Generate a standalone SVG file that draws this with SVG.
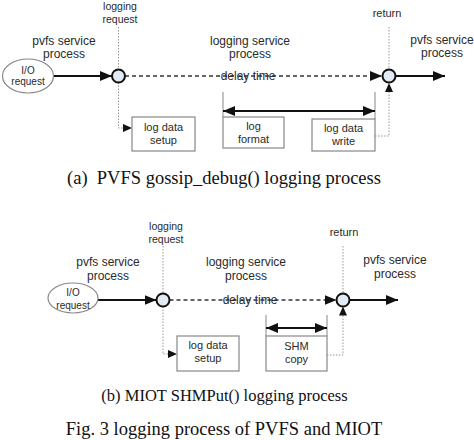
<svg xmlns="http://www.w3.org/2000/svg" width="474" height="440" viewBox="0 0 474 440">
<defs>
<style>
.t{font-family:"Liberation Sans",Arial,sans-serif;fill:#2a2a2a;text-anchor:middle}
.cap{font-family:"Liberation Serif","Times New Roman",serif;fill:#111;text-anchor:middle}
.box{fill:#fff;stroke:#888;stroke-width:1.2}
.ell{fill:#fff;stroke:#888;stroke-width:1.2}
.node{fill:#e2eaf6;stroke:#111;stroke-width:2}
.thick{stroke:#111;stroke-width:2;fill:none}
.dash{stroke:#333;stroke-width:1.3;stroke-dasharray:4 3;fill:none}
.dot{stroke:#999;stroke-width:1;stroke-dasharray:1.5 1.5;fill:none}
.brk{stroke:#888;stroke-width:1;fill:none}
.dbl{stroke:#111;stroke-width:1.8;fill:none}
</style>
<marker id="ah" markerUnits="userSpaceOnUse" markerWidth="12" markerHeight="10" refX="12" refY="5" orient="auto"><path d="M0,0 L12,5 L0,10 Z" fill="#111"/></marker>
<marker id="ahs" markerUnits="userSpaceOnUse" markerWidth="12" markerHeight="10" refX="0" refY="5" orient="auto"><path d="M12,0 L0,5 L12,10 Z" fill="#111"/></marker>
<marker id="as" markerUnits="userSpaceOnUse" markerWidth="9" markerHeight="8" refX="9" refY="4" orient="auto"><path d="M0,0 L9,4 L0,8 Z" fill="#111"/></marker>
</defs>

<g id="connectors">
<!-- (a) -->
<line class="thick" x1="53" y1="76" x2="112" y2="76" marker-end="url(#ah)"/>
<line class="dash" x1="125" y1="76" x2="382" y2="76" marker-end="url(#ah)"/>
<line class="thick" x1="395.5" y1="76" x2="445" y2="76" marker-end="url(#ah)"/>
<line class="dot" x1="118.5" y1="27" x2="118.5" y2="69.5"/>
<polyline class="dot" points="118.5,82.5 118.5,128 123,128"/>
<line x1="122" y1="128" x2="132" y2="128" stroke="none" marker-end="url(#as)"/>
<line class="dot" x1="389" y1="27" x2="389" y2="69.5"/>
<polyline class="dot" points="375,136 389,136 389,92"/>
<line x1="389" y1="92" x2="389" y2="83" stroke="none" marker-end="url(#as)"/>
<line class="brk" x1="223" y1="92" x2="223" y2="117"/>
<line class="brk" x1="375" y1="92" x2="375" y2="119"/>
<line class="dbl" x1="223" y1="111" x2="375" y2="111" marker-start="url(#ahs)" marker-end="url(#ah)"/>
<!-- (b) -->
<line class="thick" x1="98" y1="300" x2="156.5" y2="300" marker-end="url(#ah)"/>
<line class="dash" x1="169.5" y1="300" x2="336.5" y2="300" marker-end="url(#ah)"/>
<line class="thick" x1="349.5" y1="300" x2="398" y2="300" marker-end="url(#ah)"/>
<line class="dot" x1="163" y1="246" x2="163" y2="293.5"/>
<polyline class="dot" points="163,306.5 163,354 168,354"/>
<line x1="167" y1="354" x2="177" y2="354" stroke="none" marker-end="url(#as)"/>
<line class="dot" x1="343" y1="246" x2="343" y2="293.5"/>
<polyline class="dot" points="327,355 343,355 343,315"/>
<line x1="343" y1="315" x2="343" y2="306.5" stroke="none" marker-end="url(#as)"/>
<line class="brk" x1="266" y1="315" x2="266" y2="336"/>
<line class="brk" x1="327" y1="315" x2="327" y2="336"/>
<line class="dbl" x1="266" y1="328" x2="327" y2="328" marker-start="url(#ahs)" marker-end="url(#ah)"/>
</g>

<!-- (a) nodes -->
<g id="a-io-request">
<ellipse class="ell" cx="28" cy="76" rx="25.5" ry="17"/>
<text class="t" x="28" y="74" font-size="10">I/O</text>
<text class="t" x="28" y="85" font-size="10">request</text>
</g>
<g id="a-logging-request-node"><circle class="node" cx="118.5" cy="76" r="6.5"/></g>
<g id="a-return-node"><circle class="node" cx="389" cy="76" r="6.5"/></g>
<g id="a-log-data-setup">
<rect class="box" x="132" y="117" width="63" height="34"/>
<text class="t" x="163.5" y="131" font-size="11">log data</text>
<text class="t" x="163.5" y="144" font-size="11">setup</text>
</g>
<g id="a-log-format">
<rect class="box" x="223" y="117" width="61" height="31"/>
<text class="t" x="253.5" y="130" font-size="11">log</text>
<text class="t" x="253.5" y="143" font-size="11">format</text>
</g>
<g id="a-log-data-write">
<rect class="box" x="312" y="119" width="63" height="32"/>
<text class="t" x="343.5" y="132" font-size="11">log data</text>
<text class="t" x="343.5" y="145" font-size="11">write</text>
</g>
<g id="a-labels">
<text class="t" x="120" y="10" font-size="10.5">logging</text>
<text class="t" x="120" y="23" font-size="10.5">request</text>
<text class="t" x="64" y="45" font-size="12">pvfs service</text>
<text class="t" x="64" y="58" font-size="12">process</text>
<text class="t" x="250" y="45" font-size="12">logging service</text>
<text class="t" x="250" y="58" font-size="12">process</text>
<text class="t" x="248" y="80" font-size="12">delay time</text>
<text class="t" x="387" y="17" font-size="11">return</text>
<text class="t" x="442" y="44" font-size="12">pvfs service</text>
<text class="t" x="442" y="57" font-size="12">process</text>
<text class="cap" x="224" y="184" font-size="18.5" xml:space="preserve">(a)  PVFS gossip_debug() logging process</text>
</g>

<!-- (b) nodes -->
<g id="b-io-request">
<ellipse class="ell" cx="73" cy="298" rx="25" ry="15"/>
<text class="t" x="73" y="296" font-size="10">I/O</text>
<text class="t" x="73" y="309" font-size="10">request</text>
</g>
<g id="b-logging-request-node"><circle class="node" cx="163" cy="300" r="6.5"/></g>
<g id="b-return-node"><circle class="node" cx="343" cy="300" r="6.5"/></g>
<g id="b-log-data-setup">
<rect class="box" x="177" y="336" width="62" height="35"/>
<text class="t" x="208" y="349" font-size="11">log data</text>
<text class="t" x="208" y="362" font-size="11">setup</text>
</g>
<g id="b-shm-copy">
<rect class="box" x="266" y="336" width="61" height="35"/>
<text class="t" x="296.5" y="350" font-size="11">SHM</text>
<text class="t" x="296.5" y="363" font-size="11">copy</text>
</g>
<g id="b-labels">
<text class="t" x="166" y="230" font-size="10.5">logging</text>
<text class="t" x="166" y="243" font-size="10.5">request</text>
<text class="t" x="108" y="266" font-size="12">pvfs service</text>
<text class="t" x="108" y="280" font-size="12">process</text>
<text class="t" x="246" y="266" font-size="12">logging service</text>
<text class="t" x="246" y="280" font-size="12">process</text>
<text class="t" x="250" y="304" font-size="12">delay time</text>
<text class="t" x="344" y="236" font-size="11">return</text>
<text class="t" x="395" y="264" font-size="12">pvfs service</text>
<text class="t" x="395" y="278" font-size="12">process</text>
<text class="cap" x="224.5" y="401" font-size="16.5">(b) MIOT SHMPut() logging process</text>
<text class="cap" x="224" y="435" font-size="18.5">Fig. 3 logging process of PVFS and MIOT</text>
</g>
</svg>
